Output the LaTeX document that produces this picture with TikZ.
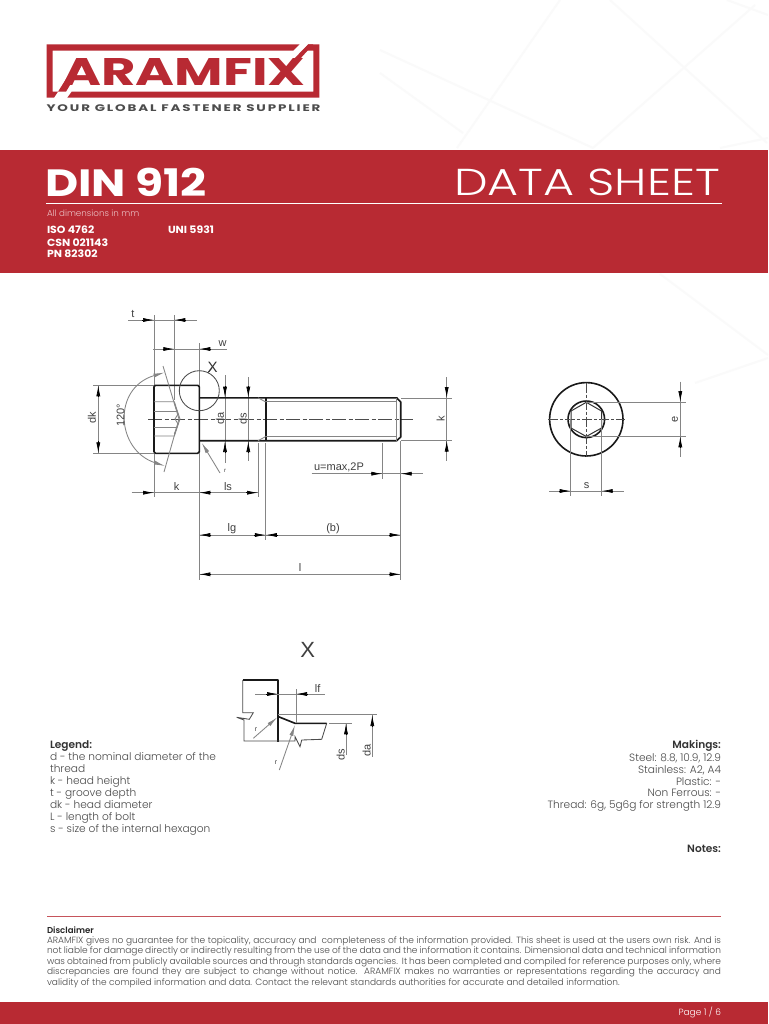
\documentclass[tikz,border=0pt]{standalone}
\usepackage{fontspec}
\usepackage{graphicx}
\usetikzlibrary{arrows.meta,calc}
\setmainfont{Poppins}
\newfontfamily\lightf{Poppins Light}
\newfontfamily\boldf{Poppins SemiBold}
\newfontfamily\heavyf{Poppins Bold}
\newfontfamily\drawf{Liberation Sans}
\definecolor{brandred}{HTML}{B82A33}
\definecolor{bodygray}{HTML}{4A4A4A}
\definecolor{faint}{HTML}{FAFAFA}
\definecolor{thinline}{HTML}{858585}
\tikzset{
  x=1pt,y=-1pt,
  every node/.style={inner sep=0pt,outer sep=0pt},
  thinl/.style={draw=thinline,line width=0.85pt},
  thick outline/.style={draw=black!90,line width=1.6pt,line join=round},
  axisl/.style={draw=black!70,line width=0.75pt,dash pattern=on 14pt off 2.5pt on 4pt off 2.5pt},
  dimtip/.style={draw=black,line width=0.7pt,-{Latex[length=11pt,width=4pt]}},
  lbl/.style={font=\drawf\fontsize{11}{11}\selectfont,text=black!75},
  lblr/.style={lbl,rotate=90},
  bgl/.style={draw=faint,line width=2pt},
  body/.style={font=\lightf\fontsize{10.6}{12}\selectfont,text=bodygray,text height=10pt,text depth=1.6pt},
  bodyb/.style={font=\boldf\fontsize{10.6}{12}\selectfont,text=black!80,text height=10pt,text depth=1.6pt},
  disc/.style={font=\lightf\fontsize{9.03}{10}\selectfont,text=bodygray,anchor=west,text height=7pt,text depth=2pt},
  headtxt/.style={font=\heavyf\fontsize{10.3}{11}\selectfont\addfontfeature{FakeStretch=1.06},text=white,anchor=west,text height=8pt,text depth=0pt},
}
\begin{document}
\begin{tikzpicture}
\useasboundingbox (0,0) rectangle (768,1024);
\fill[white] (0,0) rectangle (768,1024);
% faint background lines
\draw[bgl] (560,0)--(457,148);
\draw[bgl] (610,0)--(767,143);
\draw[bgl] (755,5)--(593,148);
\draw[bgl] (380,50)--(593,148);
\draw[bgl] (727,0)--(768,15);
\draw[bgl] (380,73)--(463,133);
\draw[bgl] (720,148)--(768,138);
\draw[bgl] (660,274)--(768,355);
\draw[bgl] (695,383)--(768,358);
% bands
\fill[brandred] (0,150) rectangle (768,273);
\fill[brandred] (0,1002) rectangle (768,1024);
\draw[white,line width=0.8pt] (46,203.5)--(722,203.5);
\draw[brandred,line width=0.9pt,opacity=.8] (47,916.5)--(721,916.5);
% logo
\fill[brandred] (46.7,44.3)--(299.5,44.3)--(293.3,50.7)--(52.7,50.7)--(52.7,91.7)--(58,91.7)--(54,97.7)--(46.7,97.7)--cycle;
\fill[brandred] (308.3,44.3)--(319.3,44.3)--(319.3,97.7)--(67.3,97.7)--(71.7,91.7)--(313.3,91.7)--(313.3,50.7)--(303,50.7)--cycle;
\fill[brandred] (58,91.7)--(79,58.5)--(86,58.5)--(66,91.7)--cycle;
\fill[brandred] (308.3,44.3)--(313.3,44.3)--(290,70)--(283,70)--cycle;
\node[font=\heavyf,text=brandred] (logotext) at (184,71.8) {\resizebox{243pt}{27pt}{ARAMFIX}};
\node[font=\heavyf,text=black!70,anchor=west] (tagline) at (46.5,107.7) {\resizebox{274pt}{6.8pt}{\addfontfeature{LetterSpace=14}YOUR GLOBAL FASTENER SUPPLIER}};
% header
\node[text=white,anchor=west] (din) at (45,182) {\scalebox{1.2}[1]{\heavyf\fontsize{38}{40}\selectfont DIN 912}};
\node[text=white,anchor=east] (datasheet) at (720,182.5) {\scalebox{1.27}[1]{\lightf\fontsize{37.5}{40}\selectfont DATA SHEET}};
\node[font=\lightf\fontsize{8.75}{9}\selectfont,text=white!72!brandred,anchor=west] (alldim) at (47,213) {All dimensions in mm};
\node[headtxt] (iso) at (47,229.5) {ISO 4762};
\node[headtxt] (csn) at (47,242) {CSN 021143};
\node[headtxt] (pn) at (47,254) {PN 82302};
\node[headtxt] (uni) at (168,229.5) {UNI 5931};

% ===== main side view =====
\draw[axisl] (148,419)--(413,419);
% extension lines
\draw[thinl] (154,315)--(154,497);
\draw[thinl] (174.3,315)--(174.3,400);
\draw[thinl] (199.3,343)--(199.3,580);
\draw[thinl] (93,385.3)--(154,385.3);
\draw[thinl] (93,453.3)--(154,453.3);
\draw[thinl] (258,443)--(258,497);
\draw[thinl] (265.8,443)--(265.8,540);
\draw[thinl] (400.7,441)--(400.7,580);
\draw[thinl] (382.3,443)--(382.3,479);
\draw[thinl] (401,398)--(452,398);
\draw[thinl] (401,440.5)--(452,440.5);
% dimension lines
\draw[thinl] (128,320)--(197,320);
\draw[thinl] (153,349)--(227,349);
\draw[thinl] (98.3,385.3)--(98.3,453.3);
\draw[thinl] (225,375)--(225,463);
\draw[thinl] (248.3,377)--(248.3,461);
\draw[thinl] (446.7,377)--(446.7,461);
\draw[thinl] (131.7,492.7)--(258,492.7);
\draw[thinl] (199.3,535)--(400.7,535);
\draw[thinl] (199.3,574.3)--(400.7,574.3);
\draw[thinl] (311.7,473.7)--(423,473.7);
% arrows
\draw[dimtip] (142,320)--(154,320);
\draw[dimtip] (186,320)--(174.3,320);
\draw[dimtip] (163,349)--(174.3,349);
\draw[dimtip] (211,349)--(199.3,349);
\draw[dimtip] (98.3,397)--(98.3,385.3);
\draw[dimtip] (98.3,441)--(98.3,453.3);
\draw[dimtip] (225,386)--(225,397.7);
\draw[dimtip] (225,453)--(225,441);
\draw[dimtip] (248.3,386)--(248.3,397.7);
\draw[dimtip] (248.3,453)--(248.3,441);
\draw[dimtip] (446.7,387)--(446.7,398);
\draw[dimtip] (446.7,451)--(446.7,440.5);
\draw[dimtip] (143,492.7)--(154,492.7);
\draw[dimtip] (211,492.7)--(199.3,492.7);
\draw[dimtip] (246,492.7)--(258,492.7);
\draw[dimtip] (211,535)--(199.3,535);
\draw[dimtip] (254,535)--(265.8,535);
\draw[dimtip] (278,535)--(265.8,535);
\draw[dimtip] (389,535)--(400.7,535);
\draw[dimtip] (211,574.3)--(199.3,574.3);
\draw[dimtip] (389,574.3)--(400.7,574.3);
\draw[dimtip] (371,473.7)--(382.3,473.7);
\draw[dimtip] (412,473.7)--(400.7,473.7);
% bolt outline
\draw[thick outline,rounded corners=1.5pt] (199.3,385.3)--(154,385.3)--(154,453.3)--(199.3,453.3)--cycle;
\draw[thick outline] (199.3,397.8)--(396.7,397.8)--(400.7,402)--(400.7,437)--(396.7,440.7)--(199.3,440.7);
\draw[thick outline] (265.8,397.8)--(265.8,440.7);
\draw[thinl] (265.8,401.7)--(396.7,401.7);
\draw[thinl] (265.8,436.7)--(396.7,436.7);
\draw[thinl] (396.7,397.8)--(396.7,440.7);
\draw[thinl] (258,397.8)--(265.8,402);
\draw[thinl] (258,440.7)--(265.8,436.5);
% socket
\draw[thinl] (154,401.7)--(174.3,401.7)--(180,419)--(174.3,436)--(154,436);
\draw[thinl] (154,411)--(176.5,411);
\draw[thinl] (154,427.7)--(176.5,427.7);
\draw[thinl] (174.3,403)--(178,414)--(175,419)--(178,424)--(174.3,434);
% cone and 120 arc
\draw[thinl] (163,366)--(179,419)--(164,472);
\draw[thinl,{Latex[length=11pt,width=4pt]}-{Latex[length=11pt,width=4pt]}] (164.5,372.5) .. controls (112,388) and (116,450) .. (165,466);
% X circle
\draw[thinl,draw=black!70] (199.3,390.7) circle (20);
\draw[thinl,draw=black!70] (208,372.7)--(212,368);
% fillet leader
\draw[thinl,{Latex[length=11pt,width=4pt]}-] (201.7,442.7)--(220,473);
% labels
\node[lbl] (lt) at (133,314) {t};
\node[lbl] (lw) at (222.7,344) {w};
\node[font=\drawf\fontsize{15}{15}\selectfont,text=black!80] (lx) at (212.7,367.7) {X};
\node[lblr] (ldk) at (92,418) {dk};
\node[lblr] (l120) at (120.7,415) {120°};
\node[lblr] (lda) at (220,418.5) {da};
\node[lblr] (lds) at (242.7,419) {ds};
\node[lblr] (lk2) at (440.7,419) {k};
\node[lbl] (lk) at (176.7,487) {k};
\node[lbl] (lls) at (228,487) {ls};
\node[lbl,font=\drawf\fontsize{6}{6}\selectfont] (lr) at (225,471) {r};
\node[lbl] (lu) at (339,467.5) {u=max,2P};
\node[lbl] (lb) at (333,529) {(b)};
\node[lbl] (llg) at (232,529) {lg};
\node[lbl] (ll) at (300,568) {l};

% ===== end view =====
\draw[thick outline] (586.3,419.3) circle (36.7);
\draw[thick outline] (586.3,419.3) circle (18.3);
\draw[draw=black!80,line width=1pt] (586.3,402.3)--(601.5,411)--(601.5,428)--(586.3,436.5)--(571,428)--(571,411)--cycle;
\draw[axisl,dash pattern=on 10pt off 2pt on 3pt off 2pt] (548,419.3)--(625,419.3);
\draw[axisl,dash pattern=on 10pt off 2pt on 3pt off 2pt] (586.3,382.7)--(586.3,456.7);
\draw[thinl] (586.3,402)--(686,402);
\draw[thinl] (586.3,436.3)--(686,436.3);
\draw[thinl] (570.7,419)--(570.7,496);
\draw[thinl] (601.7,419)--(601.7,496);
\draw[thinl] (680.3,381.7)--(680.3,457);
\draw[thinl] (549,491)--(624,491);
\draw[dimtip] (680.3,391)--(680.3,402);
\draw[dimtip] (680.3,447)--(680.3,436.3);
\draw[dimtip] (559,491)--(570.7,491);
\draw[dimtip] (613,491)--(601.7,491);
\node[lblr] (le) at (675,419) {e};
\node[lbl] (ls) at (586.7,485.7) {s};

% ===== detail X =====
\node[font=\drawf\fontsize{22}{22}\selectfont,text=black!75] (detailx) at (307.7,650) {X};
\draw[thick outline] (242.7,680)--(278,680)--(278,741.7);
\draw[thinl,draw=black!70] (242.7,680)--(242.7,712.7)--(253.3,712.7)--(249.3,719.3)--(236.7,717.3)--(244,720)--(244,741)--(295,741)--(295,736.7)--(300,746.7)--(301.7,740)--(321.7,739.3)--(326.7,723.3);
\draw[thick outline] (278,716.5)--(295,723.3)--(326.7,723.3);
\draw[thinl] (278,714.7)--(376.7,714.7);
\draw[thinl] (329,723.3)--(351.7,723.3);
\draw[thinl] (255,694)--(325,694);
\draw[thinl] (296,689.3)--(296,723.3);
\draw[thinl] (346,724)--(346,755);
\draw[thinl] (372.3,715)--(372.3,757);
\draw[dimtip] (266,694)--(278,694);
\draw[dimtip] (307.5,694)--(296,694);
\draw[dimtip] (346,735)--(346,723.3);
\draw[dimtip] (372.3,727)--(372.3,715);
\draw[thinl,{Latex[length=11pt,width=4pt]}-] (277.3,717.3)--(253.3,738.3);
\draw[thinl,{Latex[length=11pt,width=4pt]}-] (295,725)--(279.3,770);
\node[lbl,font=\drawf\fontsize{7}{7}\selectfont] (lr2) at (256,729.3) {r};
\node[lbl,font=\drawf\fontsize{7}{7}\selectfont] (lr3) at (276,762.3) {r};
\node[lbl] (llf) at (317.7,688.3) {lf};
\node[lblr] (lds2) at (340.7,755) {ds};
\node[lblr] (lda2) at (366.7,750.7) {da};

% ===== legend =====
\node[bodyb,anchor=west] (legend) at (50,744) {Legend:};
\node[body,anchor=west] (l1) at (50,756.7) {d - the nominal diameter of the};
\node[body,anchor=west] (l2) at (50,768.5) {thread};
\node[body,anchor=west] (l3) at (50,780.5) {k - head height};
\node[body,anchor=west] (l4) at (50,792.3) {t - groove depth};
\node[body,anchor=west] (l5) at (50,804.3) {dk - head diameter};
\node[body,anchor=west] (l6) at (50,816) {L - length of bolt};
\node[body,anchor=west] (l7) at (50,828) {s - size of the internal hexagon};
% makings
\node[bodyb,anchor=east] (mk) at (721,744) {Makings:};
\node[body,anchor=east] (m1) at (721,757) {Steel: 8.8, 10.9, 12.9};
\node[body,anchor=east] (m2) at (721,769) {Stainless: A2, A4};
\node[body,anchor=east] (m3) at (721,781) {Plastic: -};
\node[body,anchor=east] (m4) at (721,792.5) {Non Ferrous: -};
\node[body,anchor=east] (m5) at (721,804.3) {Thread: 6g, 5g6g for strength 12.9};
\node[bodyb,anchor=east] (notes) at (721,848.5) {Notes:};
% disclaimer
\node[font=\boldf\fontsize{8.6}{10}\selectfont,text=black!85,anchor=west,text height=7pt,text depth=2pt] (dh) at (47,930.5) {Disclaimer};
\node[disc] (d1) at (47,941) {\makebox[674pt][s]{ARAMFIX gives no guarantee for the topicality, accuracy and\ \ completeness of the information provided. This sheet is used at the users own risk. And is}};
\node[disc] (d2) at (47,951) {\makebox[674pt][s]{not liable for damage directly or indirectly resulting from the use of the data and the information it contains. Dimensional data and technical information}};
\node[disc] (d3) at (47,961.5) {\makebox[674pt][s]{was obtained from publicly available sources and through standards agencies.\ \ It has been completed and compiled for reference purposes only, where}};
\node[disc] (d4) at (47,972) {\makebox[674pt][s]{discrepancies are found they are subject to change without notice. ARAMFIX makes no warranties or representations regarding the accuracy and}};
\node[disc] (d5) at (47,983) {validity of the compiled information and data. Contact the relevant standards authorities for accurate and detailed information.};
\node[font=\lightf\fontsize{9}{10}\selectfont,text=white,anchor=east] (page) at (721,1012.5) {Page 1 / 6};
\end{tikzpicture}
\end{document}
